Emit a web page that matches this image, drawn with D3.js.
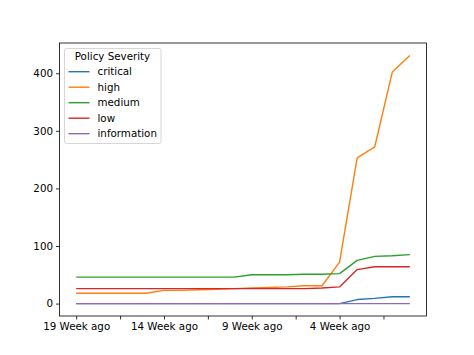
<!DOCTYPE html>
<html><head><meta charset="utf-8">
<script src="https://cdn.jsdelivr.net/npm/d3@7"></script>
<style>html,body{margin:0;padding:0;background:#fff;}svg{display:block;font-family:"DejaVu Sans",sans-serif;}</style>
</head><body>
<script>
const categories = ["19 Week ago","18 Week ago","17 Week ago","16 Week ago","15 Week ago","14 Week ago","13 Week ago","12 Week ago","11 Week ago","10 Week ago","9 Week ago","8 Week ago","7 Week ago","6 Week ago","5 Week ago","4 Week ago","3 Week ago","2 Week ago","1 Week ago","0 Week ago"];
const seriesNames = ["critical","high","medium","low","information"];
const critical    = [0,0,0,0,0,0,0,0,0,0,0,0,0,0,0,0,7,9,12,12];
const high        = [18,18,18,18,18,23,23,24,25,26,27,28,29,31,31,72,253,272,402,431];
const medium      = [46,46,46,46,46,46,46,46,46,46,50,50,50,51,51,52,75,82,83,85];
const low         = [26,26,26,26,26,26,26,26,26,26,26,26,26,26,27,29,59,64,64,64];
const information = [0,0,0,0,0,0,0,0,0,0,0,0,0,0,0,0,0,0,0,0];
const seriesValues = [critical, high, medium, low, information];
const colors = ["#1f77b4","#ff7f0e","#2ca02c","#d62728","#9467bd"];
const xTickPositions = [0,2.5,5,7.5,10,12.5,15,17.5];
const xTickLabels = ["19 Week ago","","14 Week ago","","9 Week ago","","4 Week ago",""];
const yTicks = [0,100,200,300,400];
const legendTitle = "Policy Severity";

const W = 474, H = 355;
const L = 59.5, R = 426.5, T = 43, B = 316;
const svg = d3.select("body").append("svg").attr("width", W).attr("height", H);

const n = categories.length;
const x = d3.scaleLinear().domain([-0.05*(n-1), (n-1)*1.05]).range([L, R]);
const maxV = d3.max(seriesValues.flat());
const y = d3.scaleLinear().domain([-0.05*maxV, maxV*1.05]).range([B, T]);

const fs = 10.3;
// x axis
const xAxis = d3.axisBottom(x).tickValues(xTickPositions)
  .tickFormat((d,i)=>xTickLabels[i]).tickSize(3.5).tickPadding(3);
const gx = svg.append("g").attr("transform",`translate(0,${B})`).call(xAxis);
const yAxis = d3.axisLeft(y).tickValues(yTicks).tickSize(3.5).tickPadding(3);
const gy = svg.append("g").attr("transform",`translate(${L},0)`).call(yAxis);
[gx,gy].forEach(g=>{
  g.select(".domain").remove();
  g.selectAll(".tick line").attr("stroke","#000").attr("stroke-width",0.8);
  g.selectAll("text").attr("font-size",fs).attr("fill","#000").attr("font-family","DejaVu Sans");
});

// lines
const line = d3.line().x((d,i)=>x(i)).y(d=>y(d));
seriesValues.forEach((vals,k)=>{
  svg.append("path").datum(vals).attr("d",line).attr("fill","none")
    .attr("stroke",colors[k]).attr("stroke-width",1.4).attr("stroke-linejoin","round");
});

// frame
svg.append("rect").attr("x",L).attr("y",T).attr("width",R-L).attr("height",B-T)
  .attr("fill","none").attr("stroke","#000").attr("stroke-width",0.8);

// legend
const lg = svg.append("g");
lg.append("rect").attr("x",64.5).attr("y",48.5).attr("width",96.5).attr("height",95)
  .attr("rx",2).attr("fill","#fff").attr("fill-opacity",0.8).attr("stroke","#ccc").attr("stroke-width",0.8);
lg.append("text").attr("x",112.5).attr("y",56).attr("dy","0.35em").attr("text-anchor","middle")
  .attr("font-size",fs).text(legendTitle);
seriesNames.forEach((s,k)=>{
  const yy = 71.7 + k*15.5;
  lg.append("line").attr("x1",68.5).attr("x2",89.5).attr("y1",yy).attr("y2",yy)
    .attr("stroke",colors[k]).attr("stroke-width",1.4);
  lg.append("text").attr("x",97.5).attr("y",yy).attr("dy","0.35em").attr("font-size",fs).text(s);
});
</script>
</body></html>
